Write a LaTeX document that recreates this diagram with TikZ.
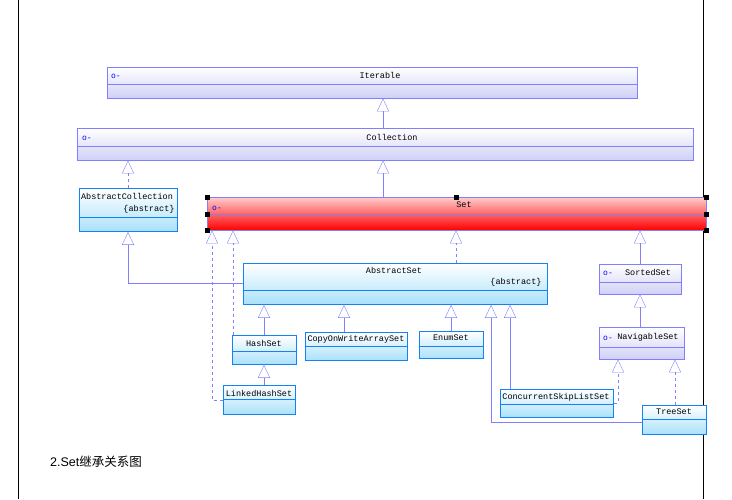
\documentclass[tikz,border=0pt]{standalone}
\usepackage{fontspec}
\setmainfont{Liberation Sans}
\newfontfamily\umlfont{Liberation Mono}
\newfontfamily\cjk{Noto Sans CJK SC}
\usetikzlibrary{positioning,calc,arrows.meta}
\definecolor{ifaceline}{RGB}{128,128,255}
\definecolor{ifacefill}{RGB}{208,208,246}
\definecolor{classline}{RGB}{20,130,245}
\definecolor{classfill}{RGB}{170,225,250}
\definecolor{linkcol}{RGB}{128,128,255}
\tikzset{
	iface/.style={draw=ifaceline, top color=white, bottom color=ifacefill, inner sep=0pt, anchor=north west},
	klass/.style={draw=classline, top color=white, bottom color=classfill, inner sep=0pt, anchor=north west, line width=0.8pt},
	redbox/.style={draw=ifaceline, top color=red!20, bottom color=red, inner sep=0pt, anchor=north west},
	txt/.style={font=\umlfont\fontsize{8.5}{9}\selectfont, inner sep=1pt},
	gen/.style={draw=linkcol, -{Triangle[open, width=12pt, length=13pt]}},
	real/.style={gen, dashed},
	handle/.style={fill=black, minimum size=5pt, inner sep=0pt},
	icon/.style={font=\umlfont\fontsize{8}{8}\selectfont, text=blue, inner sep=0pt}
}
\begin{document}
\begin{tikzpicture}[x=1pt, y=-1pt]
	\useasboundingbox (0,0) rectangle (732,499);
	\draw (18,0) -- (18,499);
	\draw (703,0) -- (703,499);

	% interfaces
	\node [iface, minimum width=530pt, minimum height=31pt] (iterable) at (107,67) {};
	\draw [ifaceline] (107,84) -- (637,84);
	\node [txt] (iterable-t) at (380,75) {Iterable};
	\node [icon] (iterable-i) at (116,76) {o-};

	\node [iface, minimum width=616pt, minimum height=32pt] (collection) at (77,128) {};
	\draw [ifaceline] (77,146) -- (693,146);
	\node [txt] (collection-t) at (392,137) {Collection};
	\node [icon] (collection-i) at (87,138) {o-};

	\node [redbox, minimum width=499pt, minimum height=33pt] (set) at (207,197) {};
	\draw [ifaceline] (207,214) -- (706,214);
	\node [txt] (set-t) at (464,205) {Set};
	\node [icon] (set-i) at (217,208) {o-};

	\node [iface, minimum width=82pt, minimum height=30pt] (sorted) at (599,264) {};
	\draw [ifaceline] (599,282) -- (681,282);
	\node [txt] (sorted-t) at (648,272) {SortedSet};
	\node [icon] (sorted-i) at (608,273) {o-};

	\node [iface, minimum width=85pt, minimum height=32pt] (navigable) at (599,327) {};
	\draw [ifaceline] (599,347) -- (684,347);
	\node [txt] (navigable-t) at (648,337) {NavigableSet};
	\node [icon] (navigable-i) at (608,338) {o-};

	% classes
	\node [klass, minimum width=98pt, minimum height=43pt] (abscoll) at (79,188) {};
	\draw [classline, line width=0.8pt] (79,217) -- (177,217);
	\node [txt] (abscoll-t) at (127,196) {AbstractCollection};
	\node [txt] (abscoll-a) at (149,209) {\{abstract\}};

	\node [klass, minimum width=304pt, minimum height=41pt] (absset) at (243,263) {};
	\draw [classline, line width=0.8pt] (243,290) -- (547,290);
	\node [txt] (absset-t) at (394,270) {AbstractSet};
	\node [txt] (absset-a) at (516,282) {\{abstract\}};

	\node [klass, minimum width=64pt, minimum height=29pt] (hashset) at (232,335) {};
	\draw [classline, line width=0.8pt] (232,351) -- (296,351);
	\node [txt] (hashset-t) at (264,343) {HashSet};

	\node [klass, minimum width=102pt, minimum height=28pt] (cow) at (305,332) {};
	\draw [classline, line width=0.8pt] (305,346) -- (407,346);
	\node [txt] (cow-t) at (356,339) {CopyOnWriteArraySet};

	\node [klass, minimum width=64pt, minimum height=27pt] (enumset) at (419,331) {};
	\draw [classline, line width=0.8pt] (419,346) -- (483,346);
	\node [txt] (enumset-t) at (451,338) {EnumSet};

	\node [klass, minimum width=72pt, minimum height=29pt] (linked) at (223,385) {};
	\draw [classline, line width=0.8pt] (223,399) -- (295,399);
	\node [txt] (linked-t) at (259,393) {LinkedHashSet};

	\node [klass, minimum width=113pt, minimum height=28pt] (skiplist) at (500,389) {};
	\draw [classline, line width=0.8pt] (500,404) -- (613,404);
	\node [txt] (skiplist-t) at (556,397) {ConcurrentSkipListSet};

	\node [klass, minimum width=64pt, minimum height=29pt] (treeset) at (642,405) {};
	\draw [classline, line width=0.8pt] (642,419) -- (706,419);
	\node [txt] (treeset-t) at (674,412) {TreeSet};

	% selection handles
	\foreach \hx/\hy in {207/197, 207/214, 207/230, 456/197, 706/197, 706/214, 706/230}
		\node [handle] at (\hx,\hy) {};

	% column helpers
	\foreach \cx in {128,212,233,264,344,383,451,456,491,510,618,640,675}
		\coordinate (x\cx) at (\cx,0);
	\coordinate (c1) at (128,283);
	\coordinate (c2) at (212,400);
	\coordinate (c3) at (491,422);
	\coordinate (c4) at (618,403);

	% links
	\draw [gen] (collection.north -| x383) -- (iterable.south -| x383);
	\draw [real] (abscoll.north -| x128) -- (collection.south -| x128);
	\draw [gen] (set.north -| x383) -- (collection.south -| x383);
	\draw [gen] (absset.west |- c1) -- (c1) -- (abscoll.south -| x128);
	\draw [real] (absset.north -| x456) -- (set.south -| x456);
	\draw [real] (hashset.north -| x233) -- (set.south -| x233);
	\draw [real] (linked.west |- c2) -- (c2) -- (set.south -| x212);
	\draw [gen] (hashset.north -| x264) -- (absset.south -| x264);
	\draw [gen] (linked.north -| x264) -- (hashset.south -| x264);
	\draw [gen] (cow.north -| x344) -- (absset.south -| x344);
	\draw [gen] (enumset.north -| x451) -- (absset.south -| x451);
	\draw [gen] (skiplist.north -| x510) -- (absset.south -| x510);
	\draw [gen] (treeset.west |- c3) -- (c3) -- (absset.south -| x491);
	\draw [gen] (sorted.north -| x640) -- (set.south -| x640);
	\draw [gen] (navigable.north -| x640) -- (sorted.south -| x640);
	\draw [real] (skiplist.east |- c4) -- (c4) -- (navigable.south -| x618);
	\draw [real] (treeset.north -| x675) -- (navigable.south -| x675);

	\node [anchor=west, font=\fontsize{12.5}{14}\selectfont, inner sep=0pt] (caption) at (50,462) {2.Set{\cjk 继承关系图}};
\end{tikzpicture}
\end{document}
